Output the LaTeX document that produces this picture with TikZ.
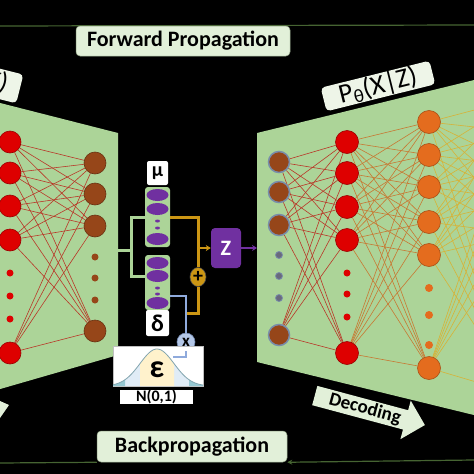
\documentclass[tikz,border=0pt]{standalone}
\usepackage{fontspec}
\setmainfont{Carlito}
\usetikzlibrary{shapes.geometric, shapes.arrows, arrows.meta}
\definecolor{panelgreen}{RGB}{172,212,152}
\definecolor{labelgreen}{RGB}{226,240,217}
\definecolor{paperwhite}{RGB}{238,245,232}
\definecolor{nodered}{RGB}{222,0,0}
\definecolor{nodebrown}{RGB}{150,70,25}
\definecolor{nodeorange}{RGB}{228,108,30}
\definecolor{ringgray}{RGB}{120,140,170}
\definecolor{dotgray}{RGB}{105,105,125}
\definecolor{latpurple}{RGB}{112,48,160}
\definecolor{goldline}{RGB}{204,150,20}
\definecolor{blueline}{RGB}{143,170,220}
\definecolor{timesblue}{RGB}{180,199,231}
\definecolor{flowgreen}{RGB}{70,100,50}
\definecolor{wirered}{RGB}{185,55,40}
\definecolor{wireorange}{RGB}{200,120,50}
\definecolor{wireyellow}{RGB}{215,178,55}
\definecolor{tailblue}{RGB}{224,236,246}
\definecolor{tailteal}{RGB}{150,200,210}
\definecolor{paleyellow}{RGB}{255,242,204}
\definecolor{curvegray}{RGB}{130,165,175}
\pgfdeclarelayer{panels}
\pgfdeclarelayer{wires}
\pgfsetlayers{panels,wires,main}

\begin{document}
\begin{tikzpicture}[x=1pt, y={(0pt,-1pt)},
  bignode/.style={circle, inner sep=0pt, minimum size=22pt},
  dotnode/.style={circle, inner sep=0pt, minimum size=7pt},
  rednode/.style={bignode, fill=nodered, draw=nodered!70!black, line width=0.6pt},
  brownnode/.style={bignode, fill=nodebrown, draw=nodebrown!70!black, line width=0.6pt},
  ringnode/.style={bignode, minimum size=21pt, fill=nodebrown, draw=ringgray, line width=1.5pt},
  orangenode/.style={bignode, minimum size=23pt, fill=nodeorange, draw=nodeorange!75!black, line width=0.6pt},
  reddot/.style={dotnode, fill=nodered},
  browndot/.style={dotnode, fill=nodebrown},
  graydot/.style={dotnode, fill=dotgray, draw=ringgray, line width=0.8pt},
  orangedot/.style={dotnode, minimum size=8pt, fill=nodeorange},
  wire/.style={line width=0.6pt},
  tagbox/.style={rounded corners=4pt, fill=labelgreen, draw=flowgreen!60, line width=0.5pt,
    font=\bfseries\fontsize{22}{22}\selectfont, inner sep=0pt},
  flowline/.style={draw=flowgreen, line width=1.2pt},
  latcol/.style={rounded corners=3pt, fill=panelgreen, minimum width=25pt, inner sep=0pt},
  pell/.style={ellipse, fill=latpurple, minimum width=22pt, minimum height=12pt, inner sep=0pt},
  pdash/.style={ellipse, fill=latpurple, minimum width=5pt, minimum height=3pt, inner sep=0pt},
  greeklbl/.style={rounded corners=2pt, fill=white, inner sep=0pt},
  gwire/.style={draw=panelgreen, line width=3pt},
  goldwire/.style={draw=goldline, line width=3pt},
  bluewire/.style={draw=blueline, line width=2.5pt}
]
\useasboundingbox (0,0) rectangle (474,474);
\clip (0,0) rectangle (474,474);

\begin{pgfonlayer}{panels}
\fill[black] (0,0) rectangle (474,474);
% encoder and decoder panels
\fill[panelgreen] (-5,101.7) -- (118,133) -- (118,355) -- (-5,390.5) -- cycle;
\fill[panelgreen] (257,133) -- (480,78.6) -- (480,416.5) -- (257,362) -- cycle;
\end{pgfonlayer}

% flow lines
\coordinate (fwdL) at (0,26);
\coordinate (fwdR) at (474,25);
\coordinate (backL) at (0,463);
\coordinate (backR) at (474,460);
\draw[flowline] (fwdL) -- (fwdR);
\node[tagbox, minimum width=214pt, minimum height=30pt] (fwd) at (183,41) {Forward Propagation};
\node[tagbox, minimum width=190pt, minimum height=31pt] (back) at (192,446.5) {Backpropagation};
\draw[flowline, -{Stealth[length=5pt,width=5pt]}] (backR) -- (back.south east);
\draw[flowline] (back.south west) -- (backL);

% labels of the two panels
\node[rounded corners=4pt, fill=paperwhite, rotate=-14, anchor=east, inner xsep=13pt, inner ysep=2pt,
  font=\fontsize{26}{26}\selectfont] (qlbl) at (20,89) {Q\textsubscript{φ}(Z|X)};
\node[rounded corners=4pt, fill=paperwhite, rotate=14, minimum width=112pt, minimum height=24pt, inner sep=0pt,
  font=\fontsize{27}{27}\selectfont] (plbl) at (378,86) {P\textsubscript{θ}(X|Z)};

% encoding / decoding arrows
\fill[labelgreen] (0,401) -- (9,405) -- (0,418) -- cycle;
\node[single arrow, fill=labelgreen, rotate=-15, minimum height=114pt, single arrow head extend=10pt,
  inner xsep=2pt, inner ysep=1.5pt, font=\bfseries\fontsize{19}{19}\selectfont] (decarrow) at (365,409) {Decoding};

% encoder
\node[rednode] (e1) at (10,142) {};
\node[rednode] (e2) at (10,173) {};
\node[rednode] (e3) at (10,206) {};
\node[rednode] (e4) at (10,240) {};
\node[reddot] (ed1) at (10,273) {};
\node[reddot] (ed2) at (10,296) {};
\node[reddot] (ed3) at (10,319) {};
\node[rednode] (e5) at (10,353) {};

\node[brownnode] (h1) at (95,163) {};
\node[brownnode] (h2) at (95,194) {};
\node[brownnode] (h3) at (95,226) {};
\node[browndot] (hd1) at (95,257) {};
\node[browndot] (hd2) at (95,278) {};
\node[browndot] (hd3) at (95,300) {};
\node[brownnode] (h4) at (95,331) {};

% decoder
\node[ringnode] (d1) at (279,162) {};
\node[ringnode] (d2) at (279,192) {};
\node[ringnode] (d3) at (279,225) {};
\node[graydot] (dd1) at (279,255) {};
\node[graydot] (dd2) at (279,276) {};
\node[graydot] (dd3) at (279,298) {};
\node[ringnode] (d4) at (279,335) {};

\node[rednode, minimum size=23pt] (r1) at (347,142) {};
\node[rednode, minimum size=23pt] (r2) at (347,173) {};
\node[rednode, minimum size=23pt] (r3) at (347,207) {};
\node[rednode, minimum size=23pt] (r4) at (347,240) {};
\node[reddot] (rd1) at (347,273) {};
\node[reddot] (rd2) at (347,294) {};
\node[reddot] (rd3) at (347,317) {};
\node[rednode, minimum size=23pt] (r5) at (347,353) {};

\node[orangenode] (o1) at (429,122) {};
\node[orangenode] (o2) at (429,155) {};
\node[orangenode] (o3) at (429,187) {};
\node[orangenode] (o4) at (429,222) {};
\node[orangenode] (o5) at (429,255) {};
\node[orangedot] (od1) at (429,288) {};
\node[orangedot] (od2) at (429,315) {};
\node[orangedot] (od3) at (429,345) {};
\node[orangenode] (o6) at (429,368) {};

\coordinate (out1) at (520,98);
\coordinate (out2) at (520,132);
\coordinate (out3) at (520,166);
\coordinate (out4) at (520,200);
\coordinate (out5) at (520,234);
\coordinate (out6) at (520,395);

\begin{pgfonlayer}{wires}
\foreach \i in {1,...,5}{\foreach \j in {1,...,4}{\draw[wire, wirered] (e\i) -- (h\j);}}
\foreach \i in {1,...,4}{\foreach \j in {1,...,5}{\draw[wire, wirered] (d\i) -- (r\j);}}
\foreach \i in {1,...,5}{\foreach \j in {1,...,6}{\draw[wire, wireorange] (r\i) -- (o\j);}}
\foreach \i in {1,...,6}{\foreach \j in {1,...,6}{\draw[wire, wireyellow] (o\i) -- (out\j);}}
\end{pgfonlayer}

% latent space
\node[greeklbl, minimum width=21pt, minimum height=24pt, font=\bfseries\fontsize{20}{20}\selectfont] (mulbl) at (157.5,173) {μ};
\node[latcol, minimum height=60pt] (mucol) at (157.5,217) {};
\node[pell] (m1) at (157.5,195) {};
\node[pell] (m2) at (157.5,209) {};
\node[pdash] (m3) at (157.5,221) {};
\node[pdash] (m4) at (157.5,228) {};
\node[pell] (m5) at (157.5,239) {};

\node[latcol, minimum height=55pt] (sdcol) at (157.5,282.5) {};
\node[pell] (s1) at (157.5,263) {};
\node[pell] (s2) at (157.5,276) {};
\node[pdash] (s3) at (157.5,288) {};
\node[pdash] (s4) at (157.5,294) {};
\node[pell] (s5) at (157.5,303) {};
\node[greeklbl, minimum width=23pt, minimum height=26pt, font=\bfseries\fontsize{24}{24}\selectfont] (sdlbl) at (157.5,323) {δ};

\node[ellipse, fill=goldline, draw=black!70, line width=0.6pt, minimum width=16pt, minimum height=19pt,
  inner sep=0pt, font=\bfseries\fontsize{20}{20}\selectfont] (plus) at (198,277) {+};
\node[circle, fill=timesblue, draw=blueline!80!black, line width=0.6pt, minimum size=18pt, inner sep=0pt,
  font=\bfseries\fontsize{17}{17}\selectfont] (times) at (186,342) {x};
\node[rounded corners=4pt, fill=latpurple, minimum width=30pt, minimum height=40pt, inner sep=0pt,
  text=white, font=\bfseries\fontsize{22}{22}\selectfont] (zbox) at (226,248) {Z};

% noise
\node[fill=white, draw=black!25, minimum width=90pt, minimum height=40pt, inner sep=0pt] (epsbox) at (158,366) {};
\fill[tailblue] (113,386) -- plot[domain=113:203, samples=60] (\x,{386-37*exp(-((\x-157)^2)/578)}) -- (203,386) -- cycle;
\fill[paleyellow] (140,386) -- plot[domain=140:174, samples=30] (\x,{386-37*exp(-((\x-157)^2)/578)}) -- (174,386) -- cycle;
\fill[tailteal] (113,386) -- plot[domain=113:125, samples=12] (\x,{386-37*exp(-((\x-157)^2)/578)}) -- (125,386) -- cycle;
\fill[tailteal] (189,386) -- plot[domain=189:203, samples=12] (\x,{386-37*exp(-((\x-157)^2)/578)}) -- (203,386) -- cycle;
\draw[curvegray, line width=0.8pt] plot[domain=113:203, samples=60] (\x,{386-37*exp(-((\x-157)^2)/578)});
\node[font=\bfseries\fontsize{32}{32}\selectfont] (eps) at (157,370) {ε};
\node[fill=white, minimum width=73pt, minimum height=13pt, inner sep=0pt,
  font=\bfseries\fontsize{16}{16}\selectfont] (nlbl) at (156.5,397) {N(0,1)};

% connectors
\coordinate (encout) at (118,250);
\coordinate (split) at (131,250);
\coordinate (join) at (187,313);
\coordinate (zin) at (198,248);
\coordinate (decin) at (257,248);
\coordinate (epsend) at (173,357);
\draw[gwire] (encout) -- (split);
\draw[gwire] (split) |- (mucol.west);
\draw[gwire] (split) |- ([yshift=6pt]sdcol.west);
\draw[goldwire] (mucol.east) -| (plus.north);
\draw[goldwire] (plus.south) |- (join);
\draw[goldwire, line width=2pt, -{Stealth[length=5pt,width=6pt]}] (zin) -- (zbox.west);
\draw[draw=latpurple, line width=2pt, -{Stealth[length=5pt,width=6pt]}] (zbox.east) -- (decin);
\draw[bluewire] ([yshift=-13.5pt]sdcol.east) -| (times.north);
\draw[bluewire] (times.south) |- (epsend);
\end{tikzpicture}
\end{document}
